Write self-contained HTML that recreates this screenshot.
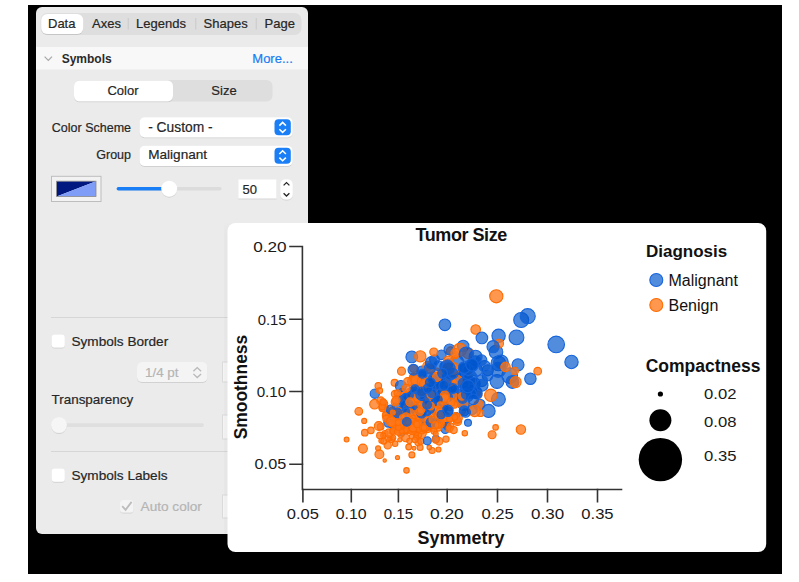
<!DOCTYPE html>
<html><head><meta charset="utf-8">
<style>
html,body{margin:0;padding:0;background:#fff;width:799px;height:582px;overflow:hidden}
svg{display:block;font-family:"Liberation Sans",sans-serif}
.ui{fill:#262626;font-size:13px;stroke:#262626;stroke-width:0.2px}
.m{fill:rgba(0,85,205,0.68);stroke:#1665dc;stroke-width:1.1}
.b{fill:rgba(255,120,26,0.77);stroke:#ff6c00;stroke-width:1.1}
.ax{stroke:#333;stroke-width:1.6;fill:none;stroke-linecap:square}
.tk{font-size:15.2px;fill:#1a1a1a}
</style></head>
<body>
<svg width="799" height="582" viewBox="0 0 799 582">
<defs>
<filter id="sh" x="-10%" y="-10%" width="120%" height="140%"><feDropShadow dx="0" dy="0.5" stdDeviation="0.6" flood-color="#000" flood-opacity="0.22"/></filter>
<filter id="csh" x="-5%" y="-5%" width="110%" height="110%"><feGaussianBlur stdDeviation="4"/></filter>
</defs>
<rect x="28" y="5" width="754" height="569" fill="#000"/>
<!-- panel -->
<rect x="36" y="7" width="272" height="527" rx="6" fill="#ebebeb"/>
<!-- tabs -->
<rect x="40.5" y="13" width="261" height="22" rx="7" fill="#dedede"/>
<rect x="41.2" y="14" width="42" height="20" rx="6" fill="#fff" filter="url(#sh)"/>
<text class="ui" x="48" y="28">Data</text>
<text class="ui" x="92" y="28">Axes</text>
<rect x="127.7" y="18" width="1" height="11.5" fill="#c9c9c9"/>
<text class="ui" x="136.1" y="28">Legends</text>
<rect x="195.3" y="18" width="1" height="11.5" fill="#c9c9c9"/>
<text class="ui" x="203.6" y="28">Shapes</text>
<rect x="255.7" y="18" width="1" height="11.5" fill="#c9c9c9"/>
<text class="ui" x="264.6" y="28">Page</text>
<!-- section header -->
<rect x="36" y="47" width="272" height="22.5" fill="#f8f8f8"/>
<polyline points="44.6,56.6 48.3,60.3 52,56.6" fill="none" stroke="#a8a8a8" stroke-width="1.2"/>
<text x="61.7" y="62.9" style="font-size:12px;font-weight:bold;fill:#2a2a2a">Symbols</text>
<text x="252.3" y="62.8" style="font-size:13px;fill:#167df5;stroke:#167df5;stroke-width:0.2px">More...</text>
<!-- color/size seg -->
<rect x="74" y="80" width="198.5" height="21.5" rx="6" fill="#dedede"/>
<rect x="74" y="80.5" width="99" height="20.8" rx="5.5" fill="#fff" filter="url(#sh)"/>
<text class="ui" x="123" y="95.2" text-anchor="middle">Color</text>
<text class="ui" x="224" y="95.2" text-anchor="middle">Size</text>
<!-- popups -->
<text x="131" y="131.6" text-anchor="end" style="font-size:12.5px;fill:#262626;stroke:#262626;stroke-width:0.2px">Color Scheme</text>
<rect x="139.6" y="117.2" width="153" height="20" rx="5" fill="#fff" filter="url(#sh)"/>
<text x="148.2" y="131.7" style="font-size:13.8px;fill:#262626;stroke:#262626;stroke-width:0.2px">- Custom -</text>
<rect x="274.5" y="119.3" width="16.3" height="16" rx="4" fill="#1a7ff6"/>
<polyline points="279.4,125.6 282.6,122.4 285.9,125.6" fill="none" stroke="#fff" stroke-width="1.5"/>
<polyline points="279.4,129.2 282.6,132.4 285.9,129.2" fill="none" stroke="#fff" stroke-width="1.5"/>
<text x="131" y="159.1" text-anchor="end" style="font-size:12.5px;fill:#262626;stroke:#262626;stroke-width:0.2px">Group</text>
<rect x="139.6" y="145.8" width="153" height="20.2" rx="5" fill="#fff" filter="url(#sh)"/>
<text x="148.2" y="159.2" style="font-size:13.6px;fill:#262626;stroke:#262626;stroke-width:0.2px">Malignant</text>
<rect x="274.5" y="147.7" width="16.3" height="16" rx="4" fill="#1a7ff6"/>
<polyline points="279.4,154.0 282.6,150.8 285.9,154.0" fill="none" stroke="#fff" stroke-width="1.5"/>
<polyline points="279.4,157.6 282.6,160.8 285.9,157.6" fill="none" stroke="#fff" stroke-width="1.5"/>
<!-- swatch -->
<rect x="51.5" y="176.3" width="49.5" height="25.2" fill="#f2f2f2" stroke="#bdbdbd" stroke-width="1"/>
<polygon points="56.6,181.2 96,181.2 56.6,196.5" fill="#001880"/>
<polygon points="96,181.2 96,196.5 56.6,196.5" fill="#7f9cf7"/>
<rect x="56.6" y="181.2" width="39.4" height="15.3" fill="none" stroke="#8a8a8a" stroke-width="0.8"/>
<!-- slider -->
<rect x="116.6" y="186.9" width="105" height="3.6" rx="1.8" fill="#dcdcdc"/>
<rect x="116.6" y="186.9" width="53" height="3.6" rx="1.8" fill="#1a7ff6"/>
<circle cx="169.2" cy="188.7" r="8" fill="#fff" filter="url(#sh)"/>
<!-- text field -->
<rect x="238.3" y="179.4" width="38.2" height="19" fill="#fff" filter="url(#sh)"/>
<text x="242.5" y="193.6" style="font-size:13px;fill:#262626;stroke:#262626;stroke-width:0.2px">50</text>
<rect x="280.3" y="179.2" width="12.5" height="20.3" rx="5" fill="#fff" filter="url(#sh)"/>
<polyline points="283.6,185.4 286.5,182.6 289.4,185.4" fill="none" stroke="#262626" stroke-width="1.3"/>
<polyline points="283.6,193.2 286.5,196.0 289.4,193.2" fill="none" stroke="#262626" stroke-width="1.3"/>
<!-- separators -->
<rect x="51" y="317" width="257" height="1" fill="#d6d6d6"/>
<rect x="51" y="451" width="257" height="1" fill="#d6d6d6"/>
<!-- Symbols border -->
<rect x="51.6" y="334.6" width="13.2" height="13" rx="3" fill="#fff" filter="url(#sh)"/>
<text x="71.5" y="346" style="font-size:13.6px;fill:#262626;stroke:#262626;stroke-width:0.2px">Symbols Border</text>
<rect x="137" y="362" width="70.5" height="20" rx="5" fill="#f4f4f4" filter="url(#sh)"/>
<text x="145" y="376.5" style="font-size:13.4px;fill:#b4b4b4;stroke:#b4b4b4;stroke-width:0.2px">1/4 pt</text>
<polyline points="193.4,371.2 197.2,367.6 201.1,371.2" fill="none" stroke="#b8b8b8" stroke-width="1.3"/>
<polyline points="193.4,373.9 197.2,377.5 201.1,373.9" fill="none" stroke="#b8b8b8" stroke-width="1.3"/>
<rect x="222.5" y="362" width="20" height="20" fill="#f4f4f4" stroke="#dadada" stroke-width="1"/>
<text x="51.5" y="403.5" style="font-size:13.45px;fill:#262626;stroke:#262626;stroke-width:0.2px">Transparency</text>
<rect x="52" y="423.3" width="152" height="3.6" rx="1.8" fill="#dfdfdf"/>
<circle cx="59" cy="425" r="8" fill="#f6f6f6" filter="url(#sh)"/>
<rect x="222.5" y="415" width="20" height="24" fill="#f4f4f4" stroke="#dadada" stroke-width="1"/>
<!-- Symbols labels -->
<rect x="51.6" y="468.4" width="13.2" height="13.4" rx="3" fill="#fff" filter="url(#sh)"/>
<text x="71.5" y="480.3" style="font-size:13.6px;fill:#262626;stroke:#262626;stroke-width:0.2px">Symbols Labels</text>
<rect x="120" y="500" width="13.5" height="12.6" rx="3" fill="#f4f4f4" filter="url(#sh)"/>
<polyline points="122.2,506.2 125.6,509.8 131.6,501.9" fill="none" stroke="#bcbcbc" stroke-width="1.8"/>
<text x="140.6" y="511" style="font-size:13.6px;fill:#b4b4b4;stroke:#b4b4b4;stroke-width:0.2px">Auto color</text>
<rect x="222.5" y="495" width="20" height="23" fill="#f4f4f4" stroke="#dadada" stroke-width="1"/>

<!-- chart card -->
<rect x="225" y="226" width="8" height="322" rx="4" fill="#000" opacity="0.035" filter="url(#csh)"/>
<rect x="227.5" y="223" width="538.7" height="329" rx="8" fill="#fff"/>
<text x="461.2" y="240.8" text-anchor="middle" style="font-size:18px;font-weight:bold;fill:#111;letter-spacing:-0.45px">Tumor Size</text>
<!-- axes -->
<path class="ax" d="M290,246.5 H302.4 V489.5 H621.5"/>
<path class="ax" d="M290,319.2 H302.4 M290,391.5 H302.4 M290,464.2 H302.4"/>
<path class="ax" d="M302.9,489.5 V501.8 M351.3,489.5 V501.8 M398.4,489.5 V501.8 M447.2,489.5 V501.8 M497.5,489.5 V501.8 M547.5,489.5 V501.8 M597.5,489.5 V501.8"/>
<g class="tk">
<text x="253.2" y="252" textLength="33.4" lengthAdjust="spacingAndGlyphs">0.20</text>
<text x="257.7" y="324.7" textLength="28.9" lengthAdjust="spacingAndGlyphs">0.15</text>
<text x="256.7" y="396.9" textLength="29.5" lengthAdjust="spacingAndGlyphs">0.10</text>
<text x="254.6" y="469.3" textLength="31.6" lengthAdjust="spacingAndGlyphs">0.05</text>
<text x="286.8" y="519.1" textLength="32.1" lengthAdjust="spacingAndGlyphs">0.05</text>
<text x="335.7" y="519.1" textLength="30.9" lengthAdjust="spacingAndGlyphs">0.10</text>
<text x="383.7" y="519.1" textLength="29.4" lengthAdjust="spacingAndGlyphs">0.15</text>
<text x="429.9" y="519.1" textLength="33.9" lengthAdjust="spacingAndGlyphs">0.20</text>
<text x="481.5" y="519.1" textLength="32.3" lengthAdjust="spacingAndGlyphs">0.25</text>
<text x="531.1" y="519.1" textLength="33.0" lengthAdjust="spacingAndGlyphs">0.30</text>
<text x="581.3" y="519.1" textLength="32.3" lengthAdjust="spacingAndGlyphs">0.35</text>
</g>
<text x="417.6" y="543.6" textLength="86.8" lengthAdjust="spacingAndGlyphs" style="font-size:18.5px;font-weight:bold;fill:#111">Symmetry</text>
<text transform="translate(246.9,439.3) rotate(-90)" textLength="104.5" lengthAdjust="spacingAndGlyphs" style="font-size:19px;font-weight:bold;fill:#111">Smoothness</text>
<!-- scatter -->
<g>
<circle class="m" cx="463.0" cy="373.6" r="5.49"/>
<circle class="m" cx="521.2" cy="320.0" r="7.50"/>
<circle class="b" cx="429.3" cy="385.4" r="3.74"/>
<circle class="b" cx="449.1" cy="385.8" r="4.74"/>
<circle class="m" cx="403.5" cy="408.5" r="3.97"/>
<circle class="m" cx="428.6" cy="403.7" r="5.10"/>
<circle class="b" cx="390.8" cy="420.8" r="2.85"/>
<circle class="b" cx="430.5" cy="419.6" r="3.08"/>
<circle class="b" cx="446.8" cy="381.0" r="5.42"/>
<circle class="b" cx="455.5" cy="398.7" r="3.85"/>
<circle class="b" cx="423.3" cy="395.9" r="4.77"/>
<circle class="m" cx="388.4" cy="422.5" r="4.60"/>
<circle class="m" cx="450.3" cy="394.5" r="5.38"/>
<circle class="b" cx="465.9" cy="403.2" r="3.73"/>
<circle class="b" cx="420.6" cy="404.8" r="3.47"/>
<circle class="b" cx="421.3" cy="395.9" r="4.20"/>
<circle class="b" cx="418.1" cy="412.2" r="3.35"/>
<circle class="b" cx="419.8" cy="432.7" r="6.61"/>
<circle class="b" cx="434.4" cy="419.4" r="3.25"/>
<circle class="b" cx="463.1" cy="389.3" r="5.96"/>
<circle class="b" cx="462.6" cy="411.6" r="2.84"/>
<circle class="b" cx="416.5" cy="389.3" r="4.09"/>
<circle class="m" cx="445.2" cy="429.5" r="3.96"/>
<circle class="m" cx="422.0" cy="371.3" r="5.33"/>
<circle class="b" cx="442.4" cy="407.9" r="2.63"/>
<circle class="m" cx="411.0" cy="417.9" r="3.44"/>
<circle class="m" cx="446.9" cy="391.6" r="5.14"/>
<circle class="b" cx="467.0" cy="372.7" r="4.57"/>
<circle class="b" cx="411.7" cy="396.8" r="4.11"/>
<circle class="b" cx="397.8" cy="427.2" r="2.53"/>
<circle class="m" cx="404.0" cy="405.5" r="2.99"/>
<circle class="b" cx="466.0" cy="383.1" r="5.19"/>
<circle class="b" cx="419.6" cy="407.6" r="2.84"/>
<circle class="b" cx="406.7" cy="430.5" r="3.13"/>
<circle class="b" cx="428.3" cy="387.3" r="4.95"/>
<circle class="b" cx="436.3" cy="394.4" r="5.32"/>
<circle class="b" cx="426.0" cy="400.4" r="3.80"/>
<circle class="b" cx="428.3" cy="386.6" r="3.88"/>
<circle class="b" cx="537.7" cy="371.2" r="3.83"/>
<circle class="b" cx="423.7" cy="429.6" r="2.61"/>
<circle class="b" cx="427.9" cy="388.9" r="4.09"/>
<circle class="b" cx="415.6" cy="405.7" r="3.46"/>
<circle class="m" cx="480.1" cy="404.2" r="4.97"/>
<circle class="m" cx="410.3" cy="419.5" r="3.94"/>
<circle class="m" cx="407.3" cy="414.5" r="4.21"/>
<circle class="b" cx="410.3" cy="430.2" r="2.82"/>
<circle class="b" cx="440.4" cy="379.3" r="4.68"/>
<circle class="b" cx="462.3" cy="399.6" r="3.59"/>
<circle class="b" cx="443.4" cy="399.1" r="4.62"/>
<circle class="b" cx="414.0" cy="448.3" r="1.91"/>
<circle class="b" cx="468.2" cy="353.2" r="5.45"/>
<circle class="m" cx="397.2" cy="406.3" r="4.91"/>
<circle class="b" cx="471.9" cy="381.7" r="3.21"/>
<circle class="m" cx="446.9" cy="388.7" r="5.07"/>
<circle class="b" cx="445.9" cy="379.1" r="3.61"/>
<circle class="b" cx="433.2" cy="405.5" r="3.94"/>
<circle class="b" cx="426.2" cy="402.1" r="4.59"/>
<circle class="b" cx="421.7" cy="430.5" r="3.53"/>
<circle class="b" cx="452.8" cy="368.0" r="4.95"/>
<circle class="b" cx="431.7" cy="416.7" r="3.74"/>
<circle class="b" cx="446.6" cy="385.2" r="3.49"/>
<circle class="b" cx="386.5" cy="414.9" r="3.74"/>
<circle class="b" cx="395.3" cy="413.8" r="4.56"/>
<circle class="b" cx="448.1" cy="405.6" r="2.55"/>
<circle class="b" cx="419.4" cy="435.2" r="2.37"/>
<circle class="b" cx="431.9" cy="385.2" r="4.99"/>
<circle class="b" cx="432.5" cy="404.2" r="4.18"/>
<circle class="b" cx="432.7" cy="395.0" r="4.58"/>
<circle class="b" cx="384.7" cy="460.6" r="1.70"/>
<circle class="m" cx="430.7" cy="378.2" r="6.09"/>
<circle class="m" cx="399.8" cy="426.3" r="3.45"/>
<circle class="b" cx="420.9" cy="381.2" r="3.76"/>
<circle class="b" cx="441.7" cy="400.7" r="3.61"/>
<circle class="b" cx="388.0" cy="416.8" r="3.10"/>
<circle class="b" cx="406.8" cy="406.8" r="3.02"/>
<circle class="b" cx="478.6" cy="405.2" r="4.97"/>
<circle class="b" cx="418.7" cy="392.1" r="3.49"/>
<circle class="b" cx="411.9" cy="454.9" r="3.02"/>
<circle class="b" cx="434.1" cy="399.0" r="2.98"/>
<circle class="b" cx="422.7" cy="393.8" r="3.80"/>
<circle class="b" cx="438.5" cy="449.5" r="2.53"/>
<circle class="b" cx="443.2" cy="384.0" r="3.95"/>
<circle class="m" cx="456.3" cy="416.3" r="3.63"/>
<circle class="b" cx="412.3" cy="390.9" r="3.86"/>
<circle class="b" cx="445.4" cy="416.3" r="4.18"/>
<circle class="m" cx="460.3" cy="380.0" r="6.22"/>
<circle class="b" cx="423.5" cy="382.4" r="3.25"/>
<circle class="b" cx="405.7" cy="421.2" r="2.95"/>
<circle class="m" cx="518.0" cy="364.8" r="6.03"/>
<circle class="b" cx="495.6" cy="427.4" r="2.76"/>
<circle class="m" cx="476.1" cy="369.9" r="6.37"/>
<circle class="b" cx="391.4" cy="439.3" r="3.26"/>
<circle class="b" cx="395.0" cy="394.0" r="3.67"/>
<circle class="b" cx="416.2" cy="434.5" r="2.29"/>
<circle class="b" cx="415.6" cy="428.5" r="3.62"/>
<circle class="b" cx="418.4" cy="408.1" r="3.14"/>
<circle class="b" cx="447.1" cy="393.8" r="4.24"/>
<circle class="b" cx="399.5" cy="413.6" r="3.72"/>
<circle class="b" cx="418.2" cy="442.6" r="3.28"/>
<circle class="b" cx="437.6" cy="393.5" r="4.47"/>
<circle class="m" cx="392.8" cy="423.6" r="3.91"/>
<circle class="b" cx="440.3" cy="398.6" r="3.85"/>
<circle class="m" cx="466.5" cy="376.1" r="5.30"/>
<circle class="m" cx="421.2" cy="405.5" r="3.96"/>
<circle class="b" cx="456.8" cy="402.3" r="3.87"/>
<circle class="b" cx="385.1" cy="433.5" r="2.99"/>
<circle class="b" cx="383.9" cy="407.7" r="4.36"/>
<circle class="b" cx="364.2" cy="420.9" r="2.53"/>
<circle class="b" cx="467.5" cy="377.8" r="4.65"/>
<circle class="b" cx="362.9" cy="448.6" r="4.48"/>
<circle class="m" cx="487.8" cy="370.3" r="5.53"/>
<circle class="b" cx="437.4" cy="391.9" r="4.18"/>
<circle class="b" cx="464.8" cy="433.2" r="2.72"/>
<circle class="b" cx="445.2" cy="416.0" r="2.71"/>
<circle class="b" cx="439.7" cy="383.1" r="4.19"/>
<circle class="b" cx="401.0" cy="424.4" r="2.67"/>
<circle class="b" cx="402.4" cy="421.7" r="2.63"/>
<circle class="b" cx="411.6" cy="420.9" r="3.03"/>
<circle class="b" cx="450.6" cy="351.1" r="4.25"/>
<circle class="b" cx="423.3" cy="396.8" r="4.03"/>
<circle class="b" cx="380.6" cy="426.7" r="3.33"/>
<circle class="b" cx="448.7" cy="389.8" r="3.54"/>
<circle class="m" cx="458.0" cy="395.7" r="6.60"/>
<circle class="b" cx="466.5" cy="371.5" r="5.04"/>
<circle class="m" cx="421.7" cy="405.2" r="6.17"/>
<circle class="m" cx="461.2" cy="371.7" r="6.70"/>
<circle class="b" cx="422.9" cy="395.6" r="3.81"/>
<circle class="m" cx="556.2" cy="344.4" r="8.31"/>
<circle class="m" cx="401.9" cy="432.7" r="3.14"/>
<circle class="b" cx="449.5" cy="417.8" r="3.41"/>
<circle class="b" cx="421.2" cy="387.0" r="3.76"/>
<circle class="b" cx="408.1" cy="414.8" r="3.05"/>
<circle class="b" cx="402.4" cy="392.6" r="4.34"/>
<circle class="m" cx="441.4" cy="354.8" r="4.79"/>
<circle class="b" cx="408.1" cy="424.9" r="4.80"/>
<circle class="b" cx="402.8" cy="423.1" r="3.20"/>
<circle class="b" cx="387.7" cy="445.4" r="3.64"/>
<circle class="m" cx="442.8" cy="377.3" r="5.70"/>
<circle class="b" cx="407.0" cy="408.8" r="3.32"/>
<circle class="b" cx="390.0" cy="438.4" r="2.49"/>
<circle class="m" cx="402.3" cy="413.7" r="3.22"/>
<circle class="b" cx="434.5" cy="406.2" r="3.26"/>
<circle class="b" cx="391.9" cy="431.7" r="2.78"/>
<circle class="m" cx="497.0" cy="381.5" r="6.89"/>
<circle class="b" cx="404.1" cy="427.7" r="3.20"/>
<circle class="b" cx="422.0" cy="395.2" r="4.36"/>
<circle class="b" cx="404.9" cy="413.6" r="3.57"/>
<circle class="b" cx="440.9" cy="393.5" r="3.64"/>
<circle class="b" cx="436.7" cy="372.2" r="4.13"/>
<circle class="b" cx="449.6" cy="405.9" r="4.65"/>
<circle class="b" cx="400.8" cy="396.0" r="4.59"/>
<circle class="m" cx="419.0" cy="404.6" r="4.46"/>
<circle class="b" cx="441.2" cy="409.2" r="4.04"/>
<circle class="b" cx="445.4" cy="424.7" r="3.74"/>
<circle class="m" cx="450.9" cy="390.0" r="5.46"/>
<circle class="b" cx="432.4" cy="390.5" r="3.40"/>
<circle class="b" cx="452.6" cy="379.1" r="4.63"/>
<circle class="m" cx="452.1" cy="393.0" r="5.00"/>
<circle class="b" cx="475.7" cy="329.5" r="4.81"/>
<circle class="b" cx="427.4" cy="365.9" r="4.61"/>
<circle class="b" cx="398.5" cy="411.1" r="3.53"/>
<circle class="b" cx="417.6" cy="412.8" r="3.97"/>
<circle class="b" cx="456.2" cy="387.0" r="3.31"/>
<circle class="b" cx="404.1" cy="393.7" r="3.18"/>
<circle class="m" cx="435.9" cy="438.7" r="3.58"/>
<circle class="b" cx="413.5" cy="368.4" r="3.87"/>
<circle class="b" cx="427.6" cy="424.5" r="2.76"/>
<circle class="m" cx="456.8" cy="362.0" r="6.86"/>
<circle class="b" cx="395.1" cy="443.7" r="2.78"/>
<circle class="m" cx="423.7" cy="397.4" r="4.66"/>
<circle class="m" cx="415.8" cy="384.2" r="4.61"/>
<circle class="b" cx="514.5" cy="381.5" r="3.90"/>
<circle class="b" cx="446.2" cy="389.6" r="4.25"/>
<circle class="b" cx="445.4" cy="364.8" r="3.70"/>
<circle class="b" cx="405.6" cy="430.0" r="3.05"/>
<circle class="b" cx="406.8" cy="397.7" r="3.02"/>
<circle class="b" cx="403.6" cy="418.0" r="4.51"/>
<circle class="b" cx="420.9" cy="396.2" r="4.47"/>
<circle class="m" cx="424.0" cy="417.7" r="4.72"/>
<circle class="b" cx="448.5" cy="364.0" r="5.32"/>
<circle class="m" cx="447.6" cy="386.1" r="6.25"/>
<circle class="b" cx="430.8" cy="369.8" r="4.35"/>
<circle class="m" cx="430.0" cy="404.2" r="4.51"/>
<circle class="b" cx="438.6" cy="428.2" r="2.90"/>
<circle class="b" cx="428.8" cy="387.2" r="4.96"/>
<circle class="b" cx="446.1" cy="415.6" r="3.03"/>
<circle class="m" cx="442.9" cy="377.8" r="4.92"/>
<circle class="m" cx="481.9" cy="337.9" r="5.84"/>
<circle class="b" cx="431.8" cy="423.5" r="4.57"/>
<circle class="m" cx="498.6" cy="335.8" r="6.69"/>
<circle class="b" cx="447.0" cy="420.8" r="4.37"/>
<circle class="b" cx="409.7" cy="422.2" r="3.39"/>
<circle class="m" cx="426.2" cy="407.8" r="3.78"/>
<circle class="b" cx="429.6" cy="394.2" r="3.69"/>
<circle class="b" cx="387.6" cy="438.4" r="2.85"/>
<circle class="b" cx="459.5" cy="401.9" r="5.01"/>
<circle class="b" cx="400.3" cy="416.5" r="4.40"/>
<circle class="m" cx="448.0" cy="364.5" r="5.31"/>
<circle class="m" cx="498.4" cy="363.4" r="7.40"/>
<circle class="b" cx="409.7" cy="391.6" r="3.25"/>
<circle class="b" cx="432.1" cy="450.5" r="3.05"/>
<circle class="m" cx="456.4" cy="370.6" r="5.09"/>
<circle class="m" cx="445.0" cy="388.0" r="4.65"/>
<circle class="m" cx="435.4" cy="399.8" r="4.94"/>
<circle class="b" cx="420.9" cy="421.8" r="3.23"/>
<circle class="m" cx="428.8" cy="427.0" r="3.27"/>
<circle class="m" cx="432.0" cy="421.5" r="3.78"/>
<circle class="b" cx="394.6" cy="382.8" r="3.46"/>
<circle class="b" cx="418.7" cy="408.2" r="3.60"/>
<circle class="b" cx="406.5" cy="470.4" r="2.73"/>
<circle class="m" cx="418.4" cy="404.7" r="4.24"/>
<circle class="b" cx="411.5" cy="407.4" r="3.62"/>
<circle class="m" cx="423.5" cy="387.0" r="6.20"/>
<circle class="m" cx="421.2" cy="408.8" r="4.39"/>
<circle class="m" cx="468.4" cy="396.9" r="4.43"/>
<circle class="b" cx="404.9" cy="430.8" r="2.62"/>
<circle class="m" cx="436.7" cy="405.2" r="5.76"/>
<circle class="b" cx="456.9" cy="420.3" r="3.74"/>
<circle class="b" cx="440.1" cy="392.4" r="3.77"/>
<circle class="m" cx="487.5" cy="375.6" r="5.39"/>
<circle class="m" cx="484.6" cy="366.2" r="5.69"/>
<circle class="m" cx="436.6" cy="424.2" r="2.81"/>
<circle class="b" cx="413.9" cy="404.2" r="4.30"/>
<circle class="m" cx="422.3" cy="375.4" r="4.66"/>
<circle class="m" cx="426.9" cy="420.7" r="5.22"/>
<circle class="m" cx="429.9" cy="396.5" r="4.56"/>
<circle class="b" cx="420.9" cy="416.6" r="5.68"/>
<circle class="b" cx="455.1" cy="355.2" r="3.61"/>
<circle class="b" cx="423.2" cy="401.1" r="3.52"/>
<circle class="b" cx="427.6" cy="429.1" r="3.49"/>
<circle class="m" cx="410.0" cy="401.8" r="4.02"/>
<circle class="b" cx="411.8" cy="411.0" r="3.22"/>
<circle class="b" cx="432.8" cy="428.8" r="2.52"/>
<circle class="b" cx="409.9" cy="423.5" r="3.96"/>
<circle class="b" cx="444.3" cy="403.1" r="3.10"/>
<circle class="b" cx="417.8" cy="428.2" r="3.96"/>
<circle class="b" cx="408.1" cy="415.9" r="3.80"/>
<circle class="b" cx="451.7" cy="387.9" r="3.66"/>
<circle class="m" cx="470.6" cy="383.3" r="6.47"/>
<circle class="b" cx="415.2" cy="408.0" r="3.48"/>
<circle class="m" cx="461.9" cy="404.5" r="4.30"/>
<circle class="m" cx="374.8" cy="393.7" r="4.64"/>
<circle class="b" cx="379.6" cy="390.5" r="3.04"/>
<circle class="m" cx="463.2" cy="345.9" r="5.72"/>
<circle class="b" cx="411.6" cy="436.6" r="2.41"/>
<circle class="b" cx="408.7" cy="447.0" r="2.89"/>
<circle class="m" cx="422.4" cy="411.3" r="4.43"/>
<circle class="b" cx="492.1" cy="434.8" r="4.01"/>
<circle class="m" cx="452.3" cy="389.4" r="6.41"/>
<circle class="b" cx="496.3" cy="296.3" r="6.62"/>
<circle class="m" cx="434.5" cy="359.6" r="4.89"/>
<circle class="m" cx="418.9" cy="407.2" r="6.24"/>
<circle class="m" cx="410.0" cy="409.7" r="4.60"/>
<circle class="b" cx="405.0" cy="429.1" r="4.04"/>
<circle class="m" cx="405.9" cy="397.7" r="4.37"/>
<circle class="m" cx="488.6" cy="410.9" r="6.54"/>
<circle class="m" cx="433.4" cy="383.6" r="6.16"/>
<circle class="m" cx="392.8" cy="424.1" r="4.56"/>
<circle class="b" cx="434.0" cy="430.9" r="3.06"/>
<circle class="b" cx="414.6" cy="421.6" r="2.95"/>
<circle class="m" cx="467.8" cy="386.6" r="5.79"/>
<circle class="m" cx="447.2" cy="426.1" r="3.82"/>
<circle class="b" cx="418.6" cy="416.7" r="3.43"/>
<circle class="m" cx="441.2" cy="407.7" r="6.34"/>
<circle class="m" cx="449.5" cy="349.5" r="5.46"/>
<circle class="m" cx="436.1" cy="379.8" r="5.62"/>
<circle class="b" cx="413.6" cy="431.0" r="3.17"/>
<circle class="b" cx="385.8" cy="415.5" r="3.47"/>
<circle class="b" cx="420.1" cy="389.8" r="3.73"/>
<circle class="m" cx="423.1" cy="383.8" r="5.98"/>
<circle class="m" cx="441.2" cy="388.2" r="5.24"/>
<circle class="m" cx="509.6" cy="375.6" r="7.87"/>
<circle class="b" cx="415.8" cy="414.5" r="3.83"/>
<circle class="m" cx="438.3" cy="399.5" r="4.07"/>
<circle class="m" cx="444.9" cy="324.8" r="5.84"/>
<circle class="m" cx="443.0" cy="403.4" r="5.69"/>
<circle class="m" cx="448.5" cy="365.4" r="4.97"/>
<circle class="b" cx="398.4" cy="398.7" r="3.30"/>
<circle class="b" cx="520.9" cy="429.5" r="4.71"/>
<circle class="m" cx="461.2" cy="377.8" r="5.54"/>
<circle class="b" cx="428.5" cy="421.9" r="4.34"/>
<circle class="b" cx="410.1" cy="416.0" r="3.01"/>
<circle class="m" cx="571.5" cy="362.0" r="6.68"/>
<circle class="b" cx="439.1" cy="441.3" r="3.79"/>
<circle class="m" cx="445.3" cy="366.6" r="5.47"/>
<circle class="b" cx="411.9" cy="430.6" r="3.88"/>
<circle class="b" cx="346.6" cy="439.6" r="2.43"/>
<circle class="m" cx="434.3" cy="392.6" r="5.00"/>
<circle class="m" cx="400.9" cy="386.1" r="5.55"/>
<circle class="b" cx="428.2" cy="418.0" r="4.19"/>
<circle class="b" cx="409.5" cy="416.1" r="3.30"/>
<circle class="b" cx="401.5" cy="371.2" r="4.03"/>
<circle class="b" cx="379.4" cy="454.3" r="4.45"/>
<circle class="b" cx="480.4" cy="413.2" r="3.33"/>
<circle class="b" cx="410.1" cy="400.2" r="4.25"/>
<circle class="m" cx="438.5" cy="365.7" r="4.93"/>
<circle class="m" cx="427.1" cy="404.1" r="4.63"/>
<circle class="b" cx="412.3" cy="400.6" r="3.92"/>
<circle class="b" cx="420.8" cy="441.6" r="3.03"/>
<circle class="b" cx="413.1" cy="378.5" r="4.19"/>
<circle class="m" cx="402.7" cy="400.3" r="4.70"/>
<circle class="b" cx="395.1" cy="416.5" r="3.43"/>
<circle class="m" cx="527.7" cy="316.2" r="7.54"/>
<circle class="b" cx="429.8" cy="425.2" r="3.70"/>
<circle class="b" cx="413.6" cy="377.3" r="4.13"/>
<circle class="b" cx="358.8" cy="411.3" r="3.86"/>
<circle class="b" cx="442.2" cy="398.5" r="5.41"/>
<circle class="b" cx="436.8" cy="416.7" r="3.26"/>
<circle class="m" cx="431.7" cy="394.2" r="5.02"/>
<circle class="b" cx="427.1" cy="419.3" r="3.24"/>
<circle class="m" cx="445.0" cy="380.3" r="5.72"/>
<circle class="b" cx="415.8" cy="400.0" r="4.95"/>
<circle class="b" cx="392.5" cy="410.8" r="3.77"/>
<circle class="b" cx="450.6" cy="426.5" r="3.43"/>
<circle class="m" cx="426.7" cy="410.7" r="5.06"/>
<circle class="b" cx="378.1" cy="448.2" r="2.49"/>
<circle class="b" cx="449.3" cy="428.9" r="3.23"/>
<circle class="m" cx="439.2" cy="396.4" r="5.67"/>
<circle class="m" cx="467.3" cy="379.3" r="5.90"/>
<circle class="m" cx="464.0" cy="405.6" r="4.97"/>
<circle class="b" cx="393.5" cy="423.1" r="3.76"/>
<circle class="b" cx="439.9" cy="423.4" r="4.53"/>
<circle class="m" cx="481.5" cy="360.1" r="5.35"/>
<circle class="b" cx="478.0" cy="394.9" r="3.96"/>
<circle class="b" cx="438.8" cy="424.6" r="3.37"/>
<circle class="b" cx="388.9" cy="433.1" r="4.21"/>
<circle class="m" cx="496.0" cy="352.0" r="6.81"/>
<circle class="b" cx="364.8" cy="432.7" r="3.32"/>
<circle class="b" cx="427.1" cy="397.6" r="3.71"/>
<circle class="m" cx="441.6" cy="401.6" r="5.03"/>
<circle class="m" cx="468.0" cy="422.8" r="3.47"/>
<circle class="b" cx="417.4" cy="399.1" r="3.03"/>
<circle class="b" cx="424.3" cy="427.4" r="4.68"/>
<circle class="m" cx="470.3" cy="377.3" r="6.62"/>
<circle class="m" cx="409.8" cy="411.3" r="3.57"/>
<circle class="b" cx="411.1" cy="418.1" r="3.51"/>
<circle class="m" cx="472.2" cy="409.6" r="4.99"/>
<circle class="b" cx="405.7" cy="437.8" r="3.90"/>
<circle class="m" cx="390.7" cy="409.5" r="4.48"/>
<circle class="b" cx="454.5" cy="404.8" r="3.32"/>
<circle class="m" cx="431.5" cy="362.6" r="6.02"/>
<circle class="b" cx="435.4" cy="376.8" r="4.16"/>
<circle class="m" cx="431.5" cy="399.2" r="4.57"/>
<circle class="b" cx="436.0" cy="410.8" r="3.33"/>
<circle class="b" cx="416.8" cy="388.4" r="3.72"/>
<circle class="m" cx="431.7" cy="398.0" r="4.96"/>
<circle class="m" cx="430.0" cy="397.7" r="5.46"/>
<circle class="m" cx="436.9" cy="387.9" r="5.45"/>
<circle class="b" cx="429.3" cy="447.4" r="2.25"/>
<circle class="b" cx="437.6" cy="409.9" r="3.79"/>
<circle class="b" cx="457.5" cy="421.4" r="4.12"/>
<circle class="b" cx="392.7" cy="416.9" r="2.51"/>
<circle class="b" cx="452.2" cy="396.8" r="5.24"/>
<circle class="m" cx="474.1" cy="383.5" r="6.05"/>
<circle class="b" cx="435.7" cy="439.6" r="3.61"/>
<circle class="m" cx="413.3" cy="390.5" r="4.25"/>
<circle class="m" cx="405.9" cy="412.1" r="4.38"/>
<circle class="b" cx="399.0" cy="414.5" r="3.76"/>
<circle class="b" cx="455.2" cy="415.8" r="3.18"/>
<circle class="b" cx="444.5" cy="373.3" r="4.97"/>
<circle class="m" cx="465.4" cy="390.1" r="5.39"/>
<circle class="b" cx="397.3" cy="413.5" r="4.55"/>
<circle class="b" cx="396.5" cy="428.1" r="4.23"/>
<circle class="b" cx="499.1" cy="343.6" r="4.42"/>
<circle class="b" cx="404.7" cy="417.9" r="2.80"/>
<circle class="m" cx="415.0" cy="393.5" r="4.92"/>
<circle class="b" cx="462.7" cy="403.3" r="5.38"/>
<circle class="b" cx="407.5" cy="416.5" r="5.05"/>
<circle class="m" cx="470.5" cy="390.1" r="6.06"/>
<circle class="m" cx="404.7" cy="404.5" r="4.48"/>
<circle class="b" cx="436.1" cy="411.3" r="4.64"/>
<circle class="m" cx="450.4" cy="387.5" r="5.23"/>
<circle class="m" cx="429.8" cy="368.4" r="5.62"/>
<circle class="m" cx="493.1" cy="346.7" r="6.12"/>
<circle class="m" cx="453.1" cy="387.7" r="5.47"/>
<circle class="b" cx="414.4" cy="377.1" r="4.07"/>
<circle class="b" cx="417.9" cy="398.8" r="3.78"/>
<circle class="b" cx="412.6" cy="381.4" r="5.03"/>
<circle class="m" cx="471.2" cy="366.2" r="5.63"/>
<circle class="m" cx="530.4" cy="378.7" r="5.72"/>
<circle class="b" cx="386.3" cy="418.6" r="3.46"/>
<circle class="b" cx="442.0" cy="386.8" r="3.56"/>
<circle class="b" cx="423.7" cy="397.7" r="4.05"/>
<circle class="m" cx="440.3" cy="397.8" r="4.53"/>
<circle class="b" cx="420.1" cy="447.5" r="3.02"/>
<circle class="m" cx="442.2" cy="391.2" r="5.26"/>
<circle class="b" cx="446.9" cy="366.9" r="4.50"/>
<circle class="b" cx="514.7" cy="371.0" r="3.71"/>
<circle class="m" cx="445.5" cy="378.5" r="4.80"/>
<circle class="b" cx="406.6" cy="419.2" r="4.33"/>
<circle class="b" cx="395.1" cy="402.0" r="3.91"/>
<circle class="b" cx="423.3" cy="403.6" r="3.94"/>
<circle class="b" cx="407.2" cy="411.8" r="3.73"/>
<circle class="b" cx="445.1" cy="386.1" r="3.94"/>
<circle class="b" cx="407.7" cy="381.9" r="4.24"/>
<circle class="b" cx="396.1" cy="422.1" r="2.94"/>
<circle class="b" cx="411.4" cy="427.8" r="2.56"/>
<circle class="b" cx="448.1" cy="360.6" r="4.47"/>
<circle class="b" cx="380.7" cy="400.9" r="4.00"/>
<circle class="b" cx="450.0" cy="418.4" r="3.46"/>
<circle class="m" cx="436.0" cy="422.8" r="4.31"/>
<circle class="m" cx="464.2" cy="410.9" r="4.99"/>
<circle class="b" cx="459.8" cy="349.9" r="6.57"/>
<circle class="m" cx="437.5" cy="382.8" r="4.85"/>
<circle class="m" cx="425.2" cy="398.6" r="4.39"/>
<circle class="m" cx="449.5" cy="385.2" r="4.54"/>
<circle class="b" cx="419.0" cy="423.0" r="2.67"/>
<circle class="b" cx="428.3" cy="382.2" r="4.66"/>
<circle class="b" cx="383.8" cy="403.6" r="3.92"/>
<circle class="b" cx="397.3" cy="393.1" r="3.24"/>
<circle class="m" cx="456.4" cy="373.6" r="5.66"/>
<circle class="b" cx="412.3" cy="418.0" r="3.42"/>
<circle class="m" cx="446.0" cy="390.3" r="4.76"/>
<circle class="m" cx="481.6" cy="380.7" r="5.97"/>
<circle class="b" cx="439.2" cy="423.3" r="3.15"/>
<circle class="b" cx="421.8" cy="409.9" r="2.70"/>
<circle class="b" cx="449.6" cy="381.5" r="4.90"/>
<circle class="m" cx="439.6" cy="399.1" r="4.63"/>
<circle class="m" cx="447.7" cy="397.0" r="4.77"/>
<circle class="b" cx="409.4" cy="440.9" r="2.61"/>
<circle class="m" cx="430.8" cy="422.2" r="4.63"/>
<circle class="b" cx="424.1" cy="427.7" r="2.93"/>
<circle class="b" cx="435.8" cy="433.7" r="2.43"/>
<circle class="m" cx="498.4" cy="399.3" r="6.95"/>
<circle class="b" cx="490.8" cy="395.3" r="6.19"/>
<circle class="b" cx="401.6" cy="426.5" r="3.01"/>
<circle class="b" cx="408.1" cy="414.5" r="3.02"/>
<circle class="b" cx="455.4" cy="353.1" r="4.56"/>
<circle class="b" cx="412.2" cy="420.9" r="2.74"/>
<circle class="m" cx="467.9" cy="366.9" r="4.82"/>
<circle class="m" cx="406.4" cy="397.1" r="3.60"/>
<circle class="b" cx="374.5" cy="404.2" r="4.84"/>
<circle class="b" cx="383.2" cy="435.4" r="2.56"/>
<circle class="b" cx="398.4" cy="420.9" r="3.21"/>
<circle class="b" cx="401.0" cy="425.0" r="2.68"/>
<circle class="m" cx="476.6" cy="393.5" r="5.55"/>
<circle class="b" cx="412.6" cy="429.1" r="3.06"/>
<circle class="b" cx="428.4" cy="397.3" r="3.79"/>
<circle class="b" cx="444.5" cy="400.2" r="4.64"/>
<circle class="m" cx="421.6" cy="413.2" r="4.82"/>
<circle class="b" cx="432.4" cy="419.6" r="3.37"/>
<circle class="b" cx="400.6" cy="434.4" r="2.87"/>
<circle class="b" cx="396.0" cy="418.7" r="2.93"/>
<circle class="b" cx="393.5" cy="430.9" r="3.37"/>
<circle class="m" cx="407.7" cy="411.5" r="3.34"/>
<circle class="b" cx="432.9" cy="389.4" r="4.12"/>
<circle class="m" cx="409.0" cy="403.7" r="3.95"/>
<circle class="b" cx="446.0" cy="439.1" r="3.16"/>
<circle class="b" cx="438.8" cy="415.2" r="4.82"/>
<circle class="m" cx="462.7" cy="398.3" r="5.04"/>
<circle class="b" cx="444.9" cy="395.3" r="4.44"/>
<circle class="b" cx="378.3" cy="385.8" r="3.29"/>
<circle class="b" cx="453.7" cy="430.1" r="3.57"/>
<circle class="b" cx="457.3" cy="380.3" r="4.97"/>
<circle class="m" cx="432.2" cy="394.7" r="4.51"/>
<circle class="m" cx="475.6" cy="361.5" r="5.62"/>
<circle class="m" cx="476.3" cy="392.1" r="5.52"/>
<circle class="m" cx="512.5" cy="381.9" r="6.46"/>
<circle class="b" cx="515.6" cy="382.1" r="5.54"/>
<circle class="m" cx="452.5" cy="388.4" r="4.97"/>
<circle class="m" cx="475.6" cy="356.8" r="6.49"/>
<circle class="m" cx="400.9" cy="414.8" r="3.55"/>
<circle class="b" cx="398.2" cy="431.6" r="3.69"/>
<circle class="m" cx="445.1" cy="382.2" r="5.95"/>
<circle class="m" cx="450.1" cy="374.5" r="5.66"/>
<circle class="b" cx="444.9" cy="398.0" r="4.34"/>
<circle class="b" cx="415.7" cy="380.3" r="4.94"/>
<circle class="b" cx="382.4" cy="408.0" r="3.66"/>
<circle class="b" cx="438.4" cy="425.3" r="2.86"/>
<circle class="b" cx="454.4" cy="368.4" r="3.62"/>
<circle class="m" cx="448.0" cy="411.8" r="4.77"/>
<circle class="b" cx="431.3" cy="384.3" r="4.64"/>
<circle class="b" cx="381.3" cy="440.8" r="2.45"/>
<circle class="m" cx="439.3" cy="383.1" r="5.90"/>
<circle class="m" cx="403.9" cy="418.2" r="3.34"/>
<circle class="m" cx="430.4" cy="409.3" r="3.93"/>
<circle class="b" cx="453.5" cy="368.4" r="5.91"/>
<circle class="b" cx="415.7" cy="396.8" r="5.09"/>
<circle class="m" cx="452.8" cy="373.5" r="5.27"/>
<circle class="m" cx="415.1" cy="389.1" r="4.28"/>
<circle class="m" cx="463.8" cy="368.7" r="5.33"/>
<circle class="b" cx="415.6" cy="423.4" r="2.97"/>
<circle class="b" cx="461.9" cy="396.4" r="3.72"/>
<circle class="b" cx="379.9" cy="435.4" r="3.28"/>
<circle class="b" cx="457.6" cy="418.1" r="4.75"/>
<circle class="m" cx="437.6" cy="399.6" r="4.62"/>
<circle class="b" cx="397.5" cy="457.5" r="2.06"/>
<circle class="m" cx="434.0" cy="383.6" r="7.25"/>
<circle class="b" cx="382.2" cy="406.9" r="3.04"/>
<circle class="m" cx="424.5" cy="399.7" r="4.42"/>
<circle class="b" cx="433.8" cy="352.0" r="4.06"/>
<circle class="b" cx="410.2" cy="412.6" r="3.69"/>
<circle class="b" cx="421.9" cy="381.5" r="4.62"/>
<circle class="m" cx="471.8" cy="365.4" r="6.38"/>
<circle class="m" cx="430.9" cy="388.2" r="4.98"/>
<circle class="m" cx="468.2" cy="369.9" r="5.49"/>
<circle class="b" cx="421.2" cy="404.9" r="3.44"/>
<circle class="m" cx="482.0" cy="385.2" r="6.02"/>
<circle class="b" cx="413.2" cy="428.0" r="3.77"/>
<circle class="b" cx="424.2" cy="384.0" r="4.56"/>
<circle class="m" cx="447.5" cy="365.0" r="5.00"/>
<circle class="m" cx="471.5" cy="393.3" r="4.93"/>
<circle class="m" cx="464.3" cy="367.5" r="5.82"/>
<circle class="b" cx="451.0" cy="402.0" r="3.84"/>
<circle class="b" cx="474.7" cy="411.0" r="5.65"/>
<circle class="b" cx="421.6" cy="409.3" r="3.50"/>
<circle class="b" cx="430.7" cy="394.8" r="3.70"/>
<circle class="b" cx="378.7" cy="426.0" r="4.40"/>
<circle class="b" cx="399.8" cy="439.8" r="2.05"/>
<circle class="b" cx="370.9" cy="430.4" r="3.27"/>
<circle class="b" cx="416.0" cy="437.6" r="2.46"/>
<circle class="b" cx="421.3" cy="393.5" r="3.12"/>
<circle class="m" cx="427.3" cy="440.9" r="3.98"/>
<circle class="m" cx="420.8" cy="394.8" r="4.99"/>
<circle class="b" cx="400.3" cy="414.6" r="3.52"/>
<circle class="b" cx="401.8" cy="431.2" r="2.36"/>
<circle class="m" cx="433.3" cy="379.1" r="5.26"/>
<circle class="m" cx="421.6" cy="391.9" r="4.87"/>
<circle class="m" cx="406.2" cy="411.3" r="3.19"/>
<circle class="b" cx="437.0" cy="377.0" r="4.53"/>
<circle class="b" cx="391.3" cy="423.7" r="2.50"/>
<circle class="b" cx="439.6" cy="412.4" r="4.27"/>
<circle class="b" cx="440.3" cy="404.7" r="2.94"/>
<circle class="b" cx="406.0" cy="416.1" r="3.20"/>
<circle class="b" cx="430.5" cy="406.0" r="3.96"/>
<circle class="m" cx="448.0" cy="410.3" r="5.17"/>
<circle class="m" cx="397.3" cy="412.9" r="4.75"/>
<circle class="m" cx="443.9" cy="385.4" r="4.89"/>
<circle class="m" cx="466.2" cy="354.3" r="7.13"/>
<circle class="b" cx="402.8" cy="417.9" r="3.36"/>
<circle class="b" cx="391.4" cy="421.6" r="5.02"/>
<circle class="b" cx="392.8" cy="412.6" r="2.51"/>
<circle class="b" cx="419.9" cy="411.6" r="3.89"/>
<circle class="b" cx="454.8" cy="417.3" r="2.95"/>
<circle class="m" cx="410.1" cy="395.3" r="3.23"/>
<circle class="m" cx="427.1" cy="404.8" r="4.36"/>
<circle class="m" cx="466.5" cy="394.5" r="4.94"/>
<circle class="m" cx="432.1" cy="393.3" r="4.40"/>
<circle class="b" cx="383.7" cy="441.2" r="2.96"/>
<circle class="m" cx="441.2" cy="414.7" r="4.11"/>
<circle class="m" cx="413.4" cy="369.8" r="5.39"/>
<circle class="b" cx="383.1" cy="401.9" r="3.18"/>
<circle class="m" cx="498.2" cy="369.9" r="7.49"/>
<circle class="m" cx="448.4" cy="368.5" r="6.81"/>
<circle class="m" cx="473.2" cy="399.3" r="5.35"/>
<circle class="b" cx="398.4" cy="427.4" r="2.84"/>
<circle class="m" cx="427.9" cy="388.6" r="4.73"/>
<circle class="b" cx="406.1" cy="388.2" r="3.92"/>
<circle class="m" cx="411.8" cy="356.9" r="5.88"/>
<circle class="b" cx="420.3" cy="356.4" r="5.65"/>
<circle class="m" cx="422.4" cy="373.8" r="4.44"/>
<circle class="b" cx="435.2" cy="425.0" r="3.61"/>
<circle class="m" cx="430.3" cy="382.6" r="4.93"/>
<circle class="b" cx="408.2" cy="421.5" r="3.50"/>
<circle class="b" cx="393.4" cy="437.7" r="2.39"/>
<circle class="m" cx="500.9" cy="362.4" r="7.41"/>
<circle class="b" cx="505.5" cy="366.9" r="4.77"/>
<circle class="m" cx="406.8" cy="421.9" r="4.36"/>
<circle class="b" cx="398.3" cy="422.5" r="3.06"/>
<circle class="m" cx="463.7" cy="383.6" r="5.61"/>
<circle class="m" cx="465.6" cy="412.3" r="4.91"/>
<circle class="b" cx="414.9" cy="439.9" r="2.68"/>
<circle class="m" cx="472.0" cy="364.8" r="6.27"/>
<circle class="b" cx="396.0" cy="400.2" r="3.94"/>
<circle class="m" cx="516.5" cy="337.4" r="7.40"/>
<circle class="b" cx="410.2" cy="402.1" r="4.35"/>
<circle class="b" cx="417.0" cy="424.4" r="3.08"/>
<circle class="m" cx="442.6" cy="373.3" r="4.88"/>
<circle class="m" cx="467.9" cy="386.3" r="6.38"/>
</g>
<!-- legend -->
<text x="646" y="256.6" style="font-size:17px;font-weight:bold;fill:#111">Diagnosis</text>
<circle class="m" cx="656.3" cy="280" r="6.5"/>
<text x="668.5" y="285.7" style="font-size:16px;fill:#111">Malignant</text>
<circle class="b" cx="656.3" cy="305" r="6.5"/>
<text x="668.5" y="311" style="font-size:16px;fill:#111">Benign</text>
<text x="645.7" y="371.9" style="font-size:17.5px;font-weight:bold;fill:#111">Compactness</text>
<circle cx="660.4" cy="394" r="2.6" fill="#000"/>
<circle cx="660.4" cy="420.2" r="11" fill="#000"/>
<circle cx="660.4" cy="459.6" r="21.7" fill="#000"/>
<text x="704.1" y="399.3" class="tk" textLength="32.4" lengthAdjust="spacingAndGlyphs">0.02</text>
<text x="704.1" y="427.2" class="tk" textLength="32.4" lengthAdjust="spacingAndGlyphs">0.08</text>
<text x="704.1" y="460.8" class="tk" textLength="32.4" lengthAdjust="spacingAndGlyphs">0.35</text>
</svg>
</body></html>
